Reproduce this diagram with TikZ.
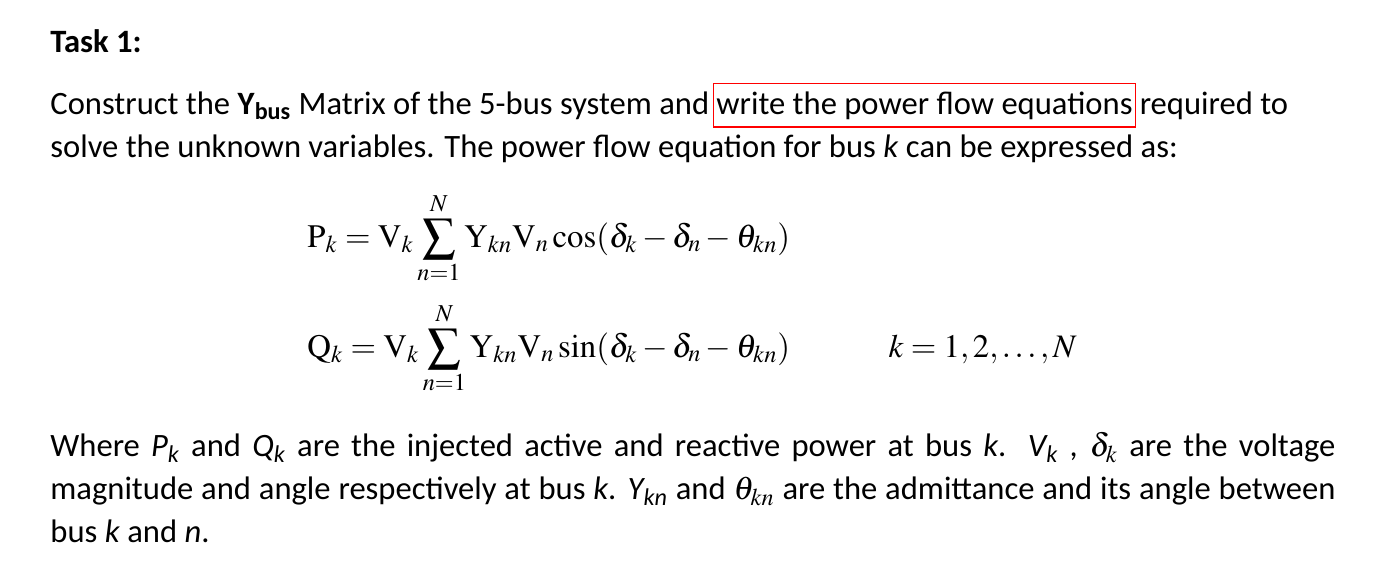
\documentclass[tikz,border=0pt]{standalone}
\usepackage{mathptmx}
\usepackage[no-math]{fontspec}
\setmainfont{Carlito}
\begin{document}
\begin{tikzpicture}[x=0.5pt,y=-0.5pt,
  txt/.style={inner sep=0pt,font=\fontsize{16.3}{21.5}\selectfont},
  eq/.style={inner sep=0pt,font=\fontsize{16.4}{19}\selectfont}]
\useasboundingbox (0,0) rectangle (1387,564);
\node[txt,anchor=base west] (t) at (50,52) {\textbf{Task 1:}};
\node[txt,anchor=base west] (l1a) at (50,114) {Construct the \textbf{Y}\textsubscript{\textbf{bus}} Matrix of the 5-bus system and};
\node[txt,anchor=base west,draw=red,inner xsep=1.5pt,inner ysep=4pt,line width=0.8pt] (l1b) at ([xshift=1.5pt]l1a.base east) {write the power flow equations};
\node[txt,anchor=base west] (l1c) at ([xshift=1.5pt]l1b.base east) {required to};
\node[txt,anchor=base west] (l2) at (50,157) {solve the unknown variables. The power flow equation for bus \textit{k} can be expressed as:};
\node[eq,anchor=base west] (e1) at (307,247) {$\displaystyle\mathrm{P}_k=\mathrm{V}_k\sum_{n=1}^{N}\mathrm{Y}_{kn}\mathrm{V}_n\cos(\delta_k-\delta_n-\theta_{kn})$};
\node[eq,anchor=base west] (e2) at (307,357) {$\displaystyle\mathrm{Q}_k=\mathrm{V}_k\sum_{n=1}^{N}\mathrm{Y}_{kn}\mathrm{V}_n\sin(\delta_k-\delta_n-\theta_{kn})\qquad\quad k=1,2,\ldots,N$};
\node[txt,anchor=north west,text width=642.5pt,align=justify] (w) at (50,432) {\hyphenpenalty=10000 Where \textit{P\textsubscript{k}} and \textit{Q\textsubscript{k}} are the injected active and reactive power at bus \textit{k}. \textit{V\textsubscript{k}} , $\delta_k$ are the voltage\linebreak magnitude and angle respectively at bus \textit{k}. \textit{Y\textsubscript{kn}} and $\theta_{kn}$ are the admittance and its angle between\linebreak bus \textit{k} and \textit{n}.};
\end{tikzpicture}
\end{document}
